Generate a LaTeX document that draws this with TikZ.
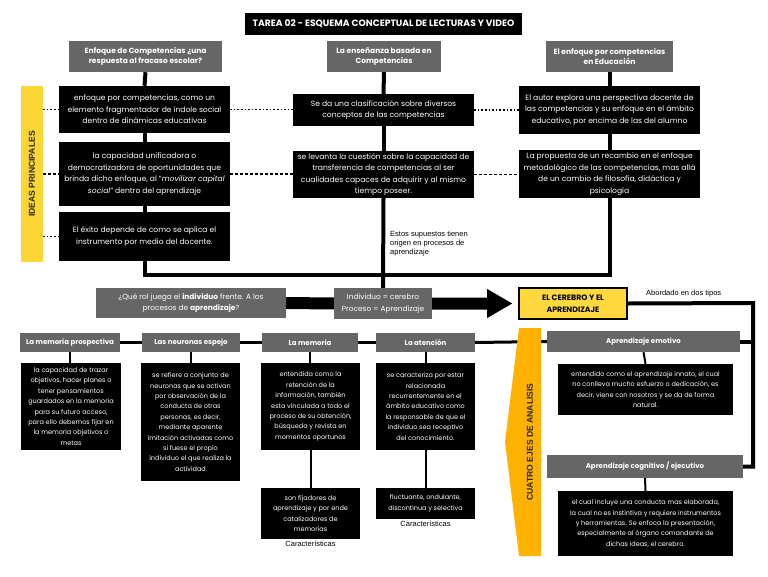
\documentclass[tikz,border=0pt]{standalone}
\usepackage{fontspec}
\setmainfont{Poppins}
\newfontfamily\arialf{Liberation Sans}
\usetikzlibrary{backgrounds,calc}
\definecolor{hdrgray}{HTML}{666666}
\definecolor{ideasyel}{HTML}{FDD633}
\definecolor{cbyel}{HTML}{FFD93D}
\definecolor{amber}{HTML}{FFB300}
\begin{document}
\begin{tikzpicture}[x=1pt,y=-1pt,
  bbox/.style={fill=black,text=white,inner sep=0pt,align=center,font=\fontsize{7.6}{11.5}\selectfont},
  sbox/.style={fill=black,text=white,inner sep=0pt,align=center,font=\fontsize{6.5}{10.4}\selectfont},
  hbox/.style={fill=hdrgray,text=white,inner sep=0pt,align=center,font=\fontsize{7.5}{10}\selectfont\bfseries},
  tbox/.style={fill=hdrgray,text=white,inner sep=0pt,align=center,font=\fontsize{7}{10}\selectfont\bfseries},
  gbox/.style={fill=hdrgray,text=white,inner sep=0pt,align=center,font=\fontsize{7.4}{11.5}\selectfont},
  connln/.style={line width=4pt},
  thinln/.style={line width=2pt},
  midln/.style={line width=3pt},
  dotln/.style={line width=1.6pt,dotted},
  dashln/.style={line width=1.2pt,densely dashed},
  notetxt/.style={font=\arialf\fontsize{7.5}{9}\selectfont,inner sep=0pt,align=left},
  sidelbl/.style={font=\arialf\bfseries\fontsize{8.6}{10}\selectfont,rotate=90,text=black!85}
]
\useasboundingbox (0,0) rectangle (768,576);

% title
\node[fill=black,text=white,minimum width=277pt,minimum height=22pt,inner sep=0pt,font=\fontsize{9.2}{10}\selectfont\bfseries] (T) at (383.5,24) {TAREA 02 - ESQUEMA CONCEPTUAL DE LECTURAS Y VIDEO};

% headers
\node[hbox,minimum width=153pt,minimum height=31pt] (H1) at (145.5,56.5) {Enfoque de Competencias ¿una\\respuesta al fracaso escolar?};
\node[hbox,minimum width=114pt,minimum height=31pt] (H2) at (384,56.5) {La enseñanza basada en\\Competencias};
\node[hbox,minimum width=127pt,minimum height=31pt] (H3) at (609.5,56.5) {El enfoque por competencias\\en Educación};

% left column
\node[bbox,minimum width=171pt,minimum height=47pt] (L1) at (144.5,109.5) {enfoque por competencias, como un\\elemento fragmentador de índole social\\dentro de dinámicas educativas};
\node[bbox,minimum width=171pt,minimum height=64pt] (L2) at (144.5,174) {la capacidad unificadora o\\democratizadora de oportunidades que\\brinda dicho enfoque, al “\textit{movilizar capital}\\\textit{social}” dentro del aprendizaje};
\node[bbox,minimum width=171pt,minimum height=49pt] (L3) at (144.5,236.5) {El éxito depende de como se aplica el\\instrumento por medio del docente.};

% middle column
\node[bbox,minimum width=181pt,minimum height=32pt] (M1) at (383.5,110) {Se da una clasificación sobre diversos\\conceptos de las competencias};
\node[bbox,minimum width=181pt,minimum height=47pt] (M2) at (383.5,174.5) {se levanta la cuestión sobre la capacidad de\\transferencia de competencias al ser\\cualidades capaces de adquirir y al mismo\\tiempo poseer.};

% right column
\node[bbox,minimum width=181pt,minimum height=48pt] (R1) at (609.5,110) {El autor explora una perspectiva docente de\\las competencias y su enfoque en el ámbito\\educativo, por encima de las del alumno};
\node[bbox,minimum width=181pt,minimum height=48pt] (R2) at (609.5,174) {La propuesta de un recambio en el enfoque\\metodológico de las competencias, mas allá\\de un cambio de filosofía, didáctica y\\psicología};

% ideas principales
\node[fill=ideasyel,minimum width=22pt,minimum height=176pt,inner sep=0pt] (IP) at (32,174) {};
\node[sidelbl] (IPt) at (IP.center) {IDEAS PRINCIPALES};

\node[notetxt,anchor=north west] (EST) at (390,231) {Estos supuestos tienen\\origen en procesos de\\aprendizaje};

% question row
\node[gbox,minimum width=190pt,minimum height=30pt] (Q) at (191,303) {¿Qué rol juega el \textbf{individuo} frente. A los\\procesos de \textbf{aprendizaje}?};
\node[gbox,minimum width=98pt,minimum height=31pt] (IC) at (383,303.5) {Individuo = cerebro\\Proceso = Aprendizaje};
\node[fill=cbyel,draw=black,line width=1.2pt,minimum width=108pt,minimum height=31pt,inner sep=0pt,align=center,font=\fontsize{7.8}{11.5}\selectfont\bfseries] (CB) at (573,303.5) {EL CEREBRO Y EL\\APRENDIZAJE};
\node[notetxt,anchor=west] (AB) at (646,294) {Abordado en dos tipos};

% four topics
\node[tbox,minimum width=100pt,minimum height=19pt] (MP) at (70,342.5) {La memoria prospectiva};
\node[tbox,minimum width=98pt,minimum height=19pt] (NE) at (191,342.5) {Las neuronas espejo};
\node[tbox,minimum width=96pt,minimum height=19pt] (ME) at (310,342.5) {La memoria};
\node[tbox,minimum width=99pt,minimum height=19pt] (AT) at (425.5,342.5) {La atención};

\node[sbox,minimum width=100pt,minimum height=87pt] (MPd) at (71,406.5) {la capacidad de trazar\\objetivos, hacer planes o\\tener pensamientos\\guardados en la memoria\\para su futuro acceso,\\para ello debemos fijar en\\la memoria objetivos o\\metas};
\node[sbox,minimum width=99pt,minimum height=118pt] (NEd) at (190.5,422) {se refiere a conjunto de\\neuronas que se activan\\por observación de la\\conducta de otras\\personas, es decir,\\mediante aparente\\imitación activadas como\\si fuese el propio\\individuo el que realiza la\\actividad};
\node[sbox,minimum width=99pt,minimum height=87pt] (MEd) at (310.5,406.5) {entendida como la\\retención de la\\información, también\\esta vinculada a todo el\\proceso de su obtención,\\búsqueda y revista en\\momentos oportunos};
\node[sbox,minimum width=99pt,minimum height=87pt] (ATd) at (425.5,406.5) {se caracteriza por estar\\relacionada\\recurrentemente en el\\ámbito educativo como\\la responsable de que el\\individuo sea receptivo\\del conocimiento.};
\node[sbox,minimum width=99pt,minimum height=51pt] (MEb) at (310.5,513.5) {son fijadores de\\aprendizaje y por ende\\catalizadores de\\memorias};
\node[sbox,minimum width=99pt,minimum height=31pt] (ATb) at (425.5,503.5) {fluctuante, ondulante,\\discontinua y selectiva};
\node[notetxt,anchor=north] (C1) at (310.5,541) {Características};
\node[notetxt,anchor=north] (C2) at (425.5,521) {Características};

% cuatro ejes
\fill[amber] (519,328) -- (541,328) -- (541,556) -- (519,556) -- (505,442) -- cycle;
\node[sidelbl] (CE) at (530,442) {CUATRO EJES DE ANALISIS};

% right side
\node[tbox,minimum width=193pt,minimum height=21pt] (AE) at (643.5,341.5) {Aprendizaje emotivo};
\node[sbox,minimum width=175pt,minimum height=51pt] (AEd) at (645.5,389.5) {entendido como el aprendizaje innato, el cual\\no conlleva mucho esfuerzo o dedicación, es\\decir, viene con nosotros y se da de forma\\natural.};
\node[tbox,minimum width=196pt,minimum height=23pt] (AC) at (645,466.5) {Aprendizaje cognitivo / ejecutivo};
\node[sbox,minimum width=175pt,minimum height=65pt] (ACd) at (645.5,523.5) {el cual incluye una conducta mas elaborada,\\la cual no es instintiva y requiere instrumentos\\y herramientas. Se enfoca la presentación,\\especialmente al órgano comandante de\\dichas ideas, el cerebro.};

\coordinate (rc) at (753,303);

\begin{scope}[on background layer]
  \fill[white] (0,0) rectangle (768,576);
  % column spines
  \draw[connln] (H1.south) -- (L1.north);
  \draw[connln] (L1.south) -- (L2.north);
  \draw[connln] (L2.south) -- (L3.north);
  \draw[connln] (L3.south) -- ++(0,14) -| (R2.south);
  \draw[connln] (H3.south) -- (R1.north);
  \draw[connln] (R1.south) -- (R2.north);
  \draw[connln] (H2.south) -- (M1.north);
  \draw[connln] (M1.south) -- (M2.north);
  \draw[connln] (M2.south) -- (IC.north);
  % dotted links
  \draw[dotln] (IP.east |- L1.west) -- (L1.west);
  \draw[dotln] (L1.east) -- (L1.east -| M1.west);
  \draw[dotln] (M1.east) -- (M1.east -| R1.west);
  \draw[dashln] (IP.east |- L2.west) -- (L2.west);
  \draw[dashln] (L2.east) -- (L2.east -| M2.west);
  \draw[dashln] (M2.east) -- (M2.east -| R2.west);
  \draw[dotln] (IP.east |- L3.west) -- (L3.west);
  % arrow row
  \draw[line width=12pt] ($(Q.east)+(-1,0)$) -- ($(IC.west)+(1,0)$);
  \fill ($(IC.east)+(-1,-6)$) -- ($(IC.east)+(55,-6)$) -- ($(IC.east)+(55,-14.5)$) -- ($(IC.east)+(80,0)$) -- ($(IC.east)+(55,14.5)$) -- ($(IC.east)+(55,6)$) -- ($(IC.east)+(-1,6)$) -- cycle;
  % right loop
  \draw[connln] (CB.east) -- (rc) |- (AC.east);
  \draw[connln] (AE.east) -- (AE.east -| rc);
  \draw[thinln] (AE.south) -- (AEd.north);
  \draw[thinln] (AC.south) -- (ACd.north);
  % topic row
  \draw[midln] (MP.east) -- (NE.west);
  \draw[midln] (NE.east) -- (ME.west);
  \draw[midln] (ME.east) -- (AT.west);
  \draw[midln] (AT.east) -- (AE.west);
  \draw[thinln] (MP.south) -- (MP.south |- MPd.north);
  \draw[thinln] (NE.south) -- (NE.south |- NEd.north);
  \draw[thinln] (ME.south) -- (ME.south |- MEd.north);
  \draw[thinln] (AT.south) -- (AT.south |- ATd.north);
  \draw[thinln] (MEd.south) -- (MEb.north);
  \draw[thinln] (ATd.south) -- (ATb.north);
\end{scope}
\end{tikzpicture}
\end{document}
